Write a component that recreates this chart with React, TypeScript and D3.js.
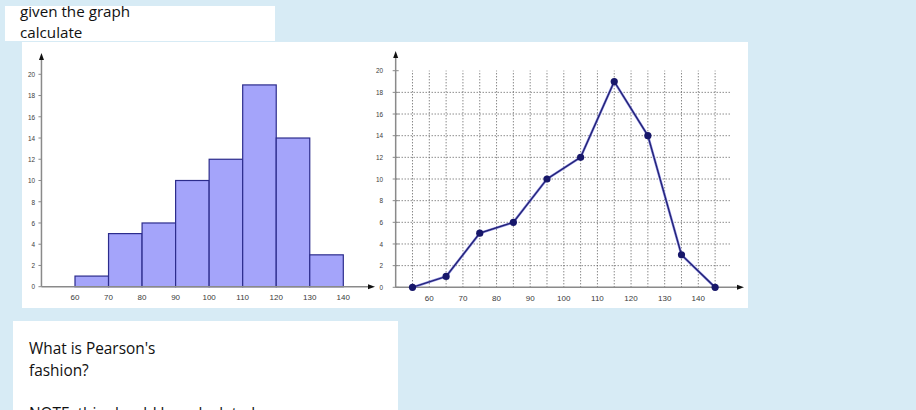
import * as React from "react";
import * as d3 from "d3";

// histogram classes (lower bound) and frequencies
const binStarts = [60, 70, 80, 90, 100, 110, 120, 130];
const binWidth = 10;
const frequencies = [1, 5, 6, 10, 12, 19, 14, 3];

// frequency polygon: class midpoints and frequencies (with zero ends)
const midpoints = [55, 65, 75, 85, 95, 105, 115, 125, 135, 145];
const polyFreq = [0, 1, 5, 6, 10, 12, 19, 14, 3, 0];

const yTickValues = [0, 2, 4, 6, 8, 10, 12, 14, 16, 18, 20];
const histXTicks = [60, 70, 80, 90, 100, 110, 120, 130, 140];
const polyXTicks = [60, 70, 80, 90, 100, 110, 120, 130, 140];
const polyGridX = d3.range(55, 146, 5);
const polyGridY = [2, 4, 6, 8, 10, 12, 14, 16, 18];

const topLines = ["given the graph", "calculate"];
const bottomLines = ["What is Pearson's", "fashion?", "", "NOTE: this should be calculated"];

const BG = "#d7ebf5";
const AXIS = "#8a8a8a";
const TICK_FONT = "'Liberation Sans', Arial, sans-serif";
const TEXT_FONT = "'Open Sans', 'Noto Sans', sans-serif";

function Arrow({ x, y, dir }: { x: number; y: number; dir: "up" | "right" }) {
  const d =
    dir === "up"
      ? `M${x},${y} L${x - 2.5},${y + 7} L${x + 2.5},${y + 7} Z`
      : `M${x},${y} L${x - 7},${y - 2.5} L${x - 7},${y + 2.5} Z`;
  return <path d={d} fill="#111" />;
}

function Histogram() {
  const x = d3.scaleLinear().domain([60, 140]).range([75, 343.3]);
  const y = d3.scaleLinear().domain([0, 20]).range([286.7, 74.3]);
  const x0 = x(50);
  return (
    <g>
      {binStarts.map((b, i) => (
        <rect
          key={b}
          x={x(b)}
          y={y(frequencies[i])}
          width={x(b + binWidth) - x(b)}
          height={y(0) - y(frequencies[i])}
          fill="#a4a4fa"
          stroke="#2c2c8c"
          strokeWidth={1.2}
        />
      ))}
      {/* axes */}
      <line x1={x0} x2={x0} y1={y(0)} y2={60} stroke={AXIS} strokeWidth={1.5} />
      <Arrow x={x0} y={53} dir="up" />
      <line x1={x0} x2={368} y1={y(0)} y2={y(0)} stroke={AXIS} strokeWidth={1.5} />
      <Arrow x={375} y={y(0)} dir="right" />
      {yTickValues.map((t) => (
        <g key={t}>
          <line x1={x0 - 3} x2={x0} y1={y(t)} y2={y(t)} stroke={AXIS} />
          <text
            x={35}
            y={y(t)}
            dy="0.35em"
            textAnchor="end"
            fontSize={8}
            fontFamily={TICK_FONT}
            fill="#3a3a3a"
            transform={`translate(35,0) scale(0.8,1) translate(-35,0)`}
          >
            {t}
          </text>
        </g>
      ))}
      {histXTicks.map((t) => (
        <text
          key={t}
          x={x(t)}
          y={297}
          dy="0.35em"
          textAnchor="middle"
          fontSize={8}
          fontFamily={TICK_FONT}
          fill="#3a3a3a"
        >
          {t}
        </text>
      ))}
    </g>
  );
}

function Polygon() {
  const x = d3.scaleLinear().domain([60, 140]).range([429.3, 698.3]);
  const y = d3.scaleLinear().domain([0, 20]).range([287.3, 70.7]);
  const x0 = x(50);
  const line = d3
    .line<number>()
    .x((_, i) => x(midpoints[i]))
    .y((d) => y(d));
  return (
    <g>
      {/* dotted grid */}
      {polyGridX.map((g) => (
        <line
          key={`gx-${g}`}
          x1={x(g)}
          x2={x(g)}
          y1={y(0)}
          y2={y(20)}
          stroke="#555"
          strokeWidth={1}
          strokeDasharray="1 2"
        />
      ))}
      {polyGridY.map((g) => (
        <line
          key={`gy-${g}`}
          x1={x0}
          x2={x(149.5)}
          y1={y(g)}
          y2={y(g)}
          stroke="#555"
          strokeWidth={1}
          strokeDasharray="1 2"
        />
      ))}
      {/* axes */}
      <line x1={x0} x2={x0} y1={y(0)} y2={58} stroke={AXIS} strokeWidth={1.5} />
      <Arrow x={x0} y={51} dir="up" />
      <line x1={x0} x2={737} y1={y(0)} y2={y(0)} stroke={AXIS} strokeWidth={1.5} />
      <Arrow x={744} y={y(0)} dir="right" />
      {yTickValues.map((t) => (
        <g key={t}>
          <line x1={x0 - 3} x2={x0 + 3} y1={y(t)} y2={y(t)} stroke={AXIS} />
          <text
            x={383}
            y={y(t)}
            dy="0.35em"
            textAnchor="end"
            fontSize={8}
            fontFamily={TICK_FONT}
            fill="#3a3a3a"
            transform={`translate(383,0) scale(0.8,1) translate(-383,0)`}
          >
            {t}
          </text>
        </g>
      ))}
      {polyXTicks.map((t) => (
        <text
          key={t}
          x={x(t)}
          y={298}
          dy="0.35em"
          textAnchor="middle"
          fontSize={8}
          fontFamily={TICK_FONT}
          fill="#3a3a3a"
        >
          {t}
        </text>
      ))}
      <path d={line(polyFreq) ?? ""} fill="none" stroke="#7a7ad6" strokeWidth={2.4} strokeLinejoin="round" />
      <path d={line(polyFreq) ?? ""} fill="none" stroke="#1f1f6e" strokeWidth={1.2} strokeLinejoin="round" />
      {polyFreq.map((f, i) => (
        <circle key={i} cx={x(midpoints[i])} cy={y(f)} r={3.6} fill="#17176a" />
      ))}
    </g>
  );
}

export default function App() {
  return (
    <svg
      width={916}
      height={410}
      style={{ position: "absolute", left: 0, top: 0, display: "block" }}
    >
      <rect x={0} y={0} width={916} height={410} fill={BG} />
      {/* top question box */}
      <rect x={5} y={6} width={270} height={35} fill="#fff" />
      {topLines.map((l, i) => (
        <text key={i} x={20} y={17 + i * 20.5} fontSize={15.2} fontFamily={TEXT_FONT} fill="#111">
          {l}
        </text>
      ))}
      {/* chart panel */}
      <rect x={22} y={42} width={726} height={266} fill="#fff" />
      <Histogram />
      <Polygon />
      {/* bottom question box */}
      <rect x={13} y={321} width={385} height={89} fill="#fff" />
      {bottomLines.map((l, i) => (
        <text key={i} x={29} y={354 + i * 21.7} fontSize={15.4} fontFamily={TEXT_FONT} fill="#111">
          {l}
        </text>
      ))}
    </svg>
  );
}
